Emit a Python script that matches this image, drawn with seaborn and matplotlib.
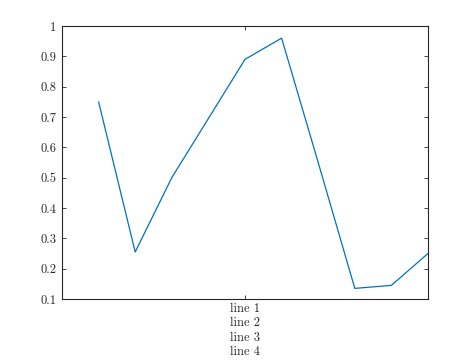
import matplotlib
matplotlib.use("Agg")
import matplotlib.pyplot as plt
import seaborn as sns
import pandas as pd

x_values = [1, 2, 3, 4, 5, 6, 7, 8, 9, 10]
y_values = [0.75, 0.255, 0.50, 0.695, 0.89, 0.96, 0.55, 0.135, 0.145, 0.25]
tick_positions = [5]
tick_labels = ["line 1\nline 2\nline 3\nline 4"]
y_ticks = [0.1, 0.2, 0.3, 0.4, 0.5, 0.6, 0.7, 0.8, 0.9, 1.0]
y_tick_labels = ["0.1", "0.2", "0.3", "0.4", "0.5", "0.6", "0.7", "0.8", "0.9", "1"]

sns.set_style("ticks")
plt.rcParams["font.family"] = ["cmr10", "DejaVu Serif"]
plt.rcParams["axes.formatter.use_mathtext"] = True

df = pd.DataFrame({"x": x_values, "y": y_values})

fig = plt.figure(figsize=(4.74, 3.6), dpi=100)
ax = fig.add_axes([62/474, 1-299/360, (428-62)/474, (299-26)/360])
sns.lineplot(data=df, x="x", y="y", ax=ax, color="#0072BD", linewidth=0.9)

ax.set_xlim(0, 10)
ax.set_ylim(0.1, 1.0)
ax.set_xticks(tick_positions)
ax.set_xticklabels(tick_labels, fontsize=9, linespacing=1.22)
ax.set_yticks(y_ticks)
ax.set_yticklabels(y_tick_labels, fontsize=9)
ax.set_xlabel("")
ax.set_ylabel("")
for s in ax.spines.values():
    s.set_visible(True)
    s.set_color("#262626")
    s.set_linewidth(0.8)
ax.tick_params(axis="y", direction="in", length=3, width=0.6, color="#262626",
               left=True, right=True, labelcolor="#262626", pad=4)
ax.tick_params(axis="x", direction="in", length=3, width=0.6, color="#262626",
               bottom=True, top=True, labelcolor="#262626", pad=3)

fig.savefig("out.png", dpi=100)
